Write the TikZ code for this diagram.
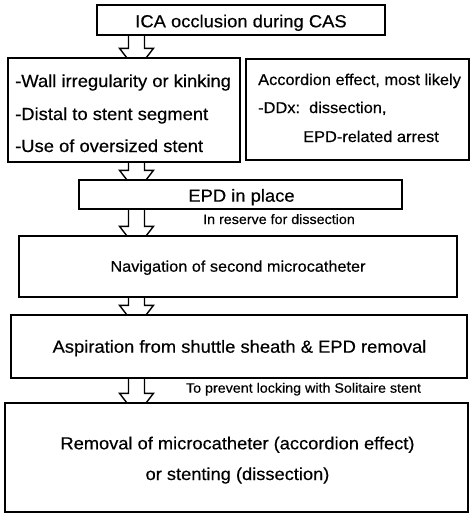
\documentclass[tikz,border=0pt]{standalone}
\usepackage{fontspec}
\setmainfont{Liberation Sans}[FakeStretch=1.05,FakeBold=0.4]
\usetikzlibrary{calc,backgrounds}
\newcommand\blockarr[2]{%
  \draw[arr] let \p1=(#1.south), \p2=(#2.north) in
    (128.5pt,\y1) -- (128.5pt,{\y2+9pt}) -- (119.5pt,{\y2+9pt}) --
    (136.5pt,{\y2-13pt}) -- (153.5pt,{\y2+9pt}) -- (144.5pt,{\y2+9pt}) --
    (144.5pt,\y1);}
\begin{document}
\begin{tikzpicture}[x=1pt,y=-1pt,
  box/.style={draw=black,line width=1.4pt,fill=white,rectangle,inner sep=0pt},
  arr/.style={draw=black,line width=1.4pt,fill=white,line join=miter},
  txt/.style={inner sep=0pt,anchor=base,text=black},
  ltxt/.style={inner sep=0pt,anchor=base west,text=black}]
\useasboundingbox (0,0) rectangle (474,515);
% boxes
\node[box,minimum width=288pt,minimum height=30pt] (top) at (241,20) {};
\node[box,minimum width=232pt,minimum height=104pt] (left) at (124,110) {};
\node[box,minimum width=223pt,minimum height=101pt] (right) at (357.5,109.5) {};
\node[box,minimum width=323pt,minimum height=29pt] (epd) at (240.5,194.5) {};
\node[box,minimum width=438pt,minimum height=61pt] (nav) at (238,266.5) {};
\node[box,minimum width=456pt,minimum height=63pt] (asp) at (239,346.5) {};
\node[box,minimum width=463pt,minimum height=109pt] (fin) at (236.5,457.5) {};
% arrows
\begin{scope}[on background layer]
\fill[white] (0,0) rectangle (474,515);
\blockarr{top}{left}
\blockarr{left}{epd}
\blockarr{epd}{nav}
\blockarr{nav}{asp}
\blockarr{asp}{fin}
\end{scope}
% texts
\node[txt,font=\fontsize{17.5}{20}\selectfont] (t1) at (241,27.3) {ICA occlusion during CAS};
\node[ltxt,font=\fontsize{17.5}{20}\selectfont] (l1) at (15,87) {-Wall irregularity or kinking};
\node[ltxt,font=\fontsize{17.5}{20}\selectfont] (l2) at (15,120) {-Distal to stent segment};
\node[ltxt,font=\fontsize{17.5}{20}\selectfont] (l3) at (15,152) {-Use of oversized stent};
\node[ltxt,font=\fontsize{15.6}{18}\selectfont] (r1) at (258,85) {Accordion effect, most likely};
\node[ltxt,font=\fontsize{15.6}{18}\selectfont] (r2) at (258,113) {-DDx:\ \ dissection,};
\node[ltxt,font=\fontsize{15.6}{18}\selectfont] (r3) at (303,142) {EPD-related arrest};
\node[txt,font=\fontsize{17.5}{20}\selectfont] (t2) at (241.5,201.7) {EPD in place};
\node[txt,font=\fontsize{13.6}{16}\selectfont] (n1) at (279,224) {In reserve for dissection};
\node[txt,font=\fontsize{15.5}{18}\selectfont] (t3) at (238,271.7) {Navigation of second microcatheter};
\node[txt,font=\fontsize{17.5}{20}\selectfont] (t4) at (239.5,352.7) {Aspiration from shuttle sheath \& EPD removal};
\node[txt,font=\fontsize{13.6}{16}\selectfont] (n2) at (303.5,392.7) {To prevent locking with Solitaire stent};
\node[txt,font=\fontsize{17.4}{20}\selectfont] (t5) at (237.5,449.3) {Removal of microcatheter (accordion effect)};
\node[txt,font=\fontsize{17.4}{20}\selectfont] (t6) at (237.5,480) {or stenting (dissection)};
\end{tikzpicture}
\end{document}
